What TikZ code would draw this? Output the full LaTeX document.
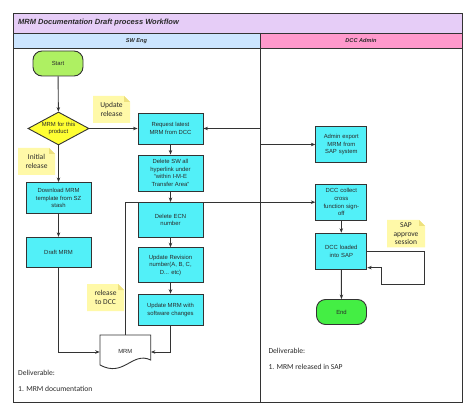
\documentclass[tikz,border=0pt]{standalone}
\usepackage{fontspec}
\setmainfont{Liberation Sans}
\newfontfamily\notefont{Carlito}
\usetikzlibrary{arrows.meta,shapes.geometric,calc}
\definecolor{boxcyan}{HTML}{52F0F8}
\definecolor{startgreen}{HTML}{AEF062}
\definecolor{endgreen}{HTML}{44EE44}
\definecolor{diayellow}{HTML}{FFFF33}
\definecolor{noteyellow}{HTML}{FFF9A8}
\definecolor{notefold}{HTML}{EDE07E}
\definecolor{titlepurple}{HTML}{E6CDF7}
\definecolor{swblue}{HTML}{CCE5FF}
\definecolor{dccpink}{HTML}{FF99CC}
\definecolor{linegray}{HTML}{333333}
\definecolor{textgray}{HTML}{2A2A2A}
\tikzset{
  proc/.style={draw=linegray, line width=0.9pt, fill=boxcyan, minimum width=65pt, inner sep=1pt,
    align=center, text=textgray, font=\fontsize{5.9}{7.7}\selectfont},
  dproc/.style={proc, minimum width=51pt, text width=44pt},
  term/.style={draw=linegray, line width=0.9pt, rounded corners=9pt, minimum width=50pt, minimum height=25pt,
    text=textgray, font=\fontsize{5.9}{7.7}\selectfont},
  conn/.style={draw=linegray, line width=0.9pt, -{Stealth[length=4.5pt,width=3.5pt]}},
  conn2/.style={draw=linegray, line width=0.9pt, {Stealth[length=4.5pt,width=3.5pt]}-{Stealth[length=4.5pt,width=3.5pt]}},
  notetext/.style={align=center, text=textgray, font=\notefont\fontsize{7.5}{8.3}\selectfont, inner sep=0pt},
  plaintext/.style={anchor=west, text=textgray, font=\notefont\fontsize{7.6}{9}\selectfont, inner sep=0pt},
  frame/.style={draw=linegray, line width=0.9pt}
}
% \mynote{name}{x1}{y1}{x2}{y2}{text}
\newcommand\mynote[6]{%
  \fill[noteyellow] (#2,#3) -- (#4-6,#3) -- (#4,#3+6) -- (#4,#5) -- (#2,#5) -- cycle;
  \fill[notefold] (#4-6,#3) -- (#4-6,#3+6) -- (#4,#3+6) -- cycle;
  \node[notetext] (#1) at ({(#2+#4)/2},{(#3+#5)/2}) {#6};
}
\begin{document}
\begin{tikzpicture}[x=1pt,y=-1pt]
\useasboundingbox (0,0) rectangle (474,414);
% frame and lanes
\fill[titlepurple] (13,13) rectangle (462,33);
\fill[swblue] (13,33) rectangle (260,48);
\fill[dccpink] (260,33) rectangle (462,48);
\draw[frame] (13,13) rectangle (462,402);
\draw[frame] (13,33) -- (462,33);
\draw[frame] (13,48) -- (462,48);
\draw[frame] (260,33) -- (260,402);
\coordinate (divider) at (260,0);
\node[anchor=west, inner sep=0pt, text=textgray, font=\fontsize{7.5}{9}\selectfont\bfseries\itshape] (title) at (18,23) {MRM Documentation Draft process Workflow};
\node[inner sep=0pt, text=textgray, font=\fontsize{5.6}{7}\selectfont\bfseries\itshape] (swhead) at (136.5,40.8) {SW Eng};
\node[inner sep=0pt, text=textgray, font=\fontsize{5.6}{7}\selectfont\bfseries\itshape] (dcchead) at (361,40.8) {DCC Admin};

% notes
\mynote{noteupd}{93}{96}{130}{123}{Update\\release}
\mynote{noteinit}{18}{148}{55}{175}{Initial\\release}
\mynote{noterel}{87}{284}{124}{311}{release\\to DCC}
\mynote{notesap}{387}{220}{425}{247.5}{SAP\\approve\\session}

% SW Eng lane nodes
\node[term, fill=startgreen] (start) at (58,63.5) {Start};
\node[draw=linegray, line width=0.9pt, fill=diayellow, shape=diamond, minimum width=61pt, minimum height=33pt, inner sep=0pt,
  label={[text=textgray, font=\fontsize{5.9}{7.7}\selectfont, align=center]center:MRM for this\\product}] (dia) at (58.5,128.5) {};
\node[proc, minimum height=31pt] (download) at (58.5,198) {Download MRM\\template from SZ\\stash};
\node[proc, minimum height=30pt] (draft) at (58.5,252.3) {Draft MRM};
\node[proc, minimum height=31pt] (request) at (170.5,128.5) {Request latest\\MRM from DCC};
\node[proc, minimum height=36pt] (delsw) at (170.5,173) {Delete SW all\\hyperlink under\\``within I-M-E\\Transfer Area''};
\node[proc, minimum height=35pt] (delecn) at (170.5,220) {Delete ECN\\number};
\node[proc, minimum height=35pt] (updrev) at (170.5,265.2) {Update Revision\\number(A, B, C,\\D... etc)};
\node[proc, minimum height=31pt] (updmrm) at (170.5,309.7) {Update MRM with\\software changes};
% MRM document (shape drawn first, then the named node with its text)
\draw[draw=linegray, line width=0.9pt, fill=white] (100,335) -- (150.7,335) -- (150.7,360)
  .. controls (132,351) and (124,378) .. (100,365) -- cycle;
\node[minimum width=50.7pt, minimum height=34pt, inner sep=0pt, text=textgray, font=\fontsize{5.9}{7.7}\selectfont] (mrm) at (125.3,352) {\raisebox{1pt}{MRM}};

% DCC lane nodes
\node[dproc, minimum height=36pt] (admin) at (341.3,144.5) {Admin export\\MRM from\\SAP system};
\node[dproc, minimum height=36pt] (collect) at (341.3,202.2) {DCC collect\\cross\\function sign-\\off};
\node[dproc, minimum height=36pt] (loaded) at (341.3,251.2) {DCC loaded\\into SAP};
\node[term, fill=endgreen] (end) at (341.5,312) {End};

% deliverables
\node[plaintext] (del1) at (18,373) {Deliverable:};
\node[plaintext] (del1b) at (18,388.5) {1. MRM documentation};
\node[plaintext] (del2) at (268.3,351) {Deliverable:};
\node[plaintext] (del2b) at (268.3,367) {1. MRM released in SAP};

% connectors
\draw[conn] (start) -- (dia);
\draw[conn] (dia.east) -- (request.west);
\draw[conn] (dia.south) -- (download.north);
\draw[conn] (download) -- (draft);
\draw[conn] (request) -- (delsw);
\draw[conn] (delsw) -- (delecn);
\draw[conn] (delecn) -- (updrev);
\draw[conn] (updrev) -- (updmrm);
\draw[conn] (draft.south) |- (mrm.west);
\draw[conn] (updmrm.south) |- (mrm.east);
\draw[conn] (mrm.north) |- (collect.west);
\draw[conn2] (request.east) -- (request.east -| divider) |- (admin.west);
\draw[conn] (collect) -- (loaded);
\draw[conn] (loaded) -- (end);
\coordinate (loopa) at (424.3,251.2);
\coordinate (loopb) at (381.7,284);
\draw[conn] (loaded.east) -- (loopa) |- (loopb) |- ($(loaded.south east)+(0,-2)$);
\end{tikzpicture}
\end{document}
